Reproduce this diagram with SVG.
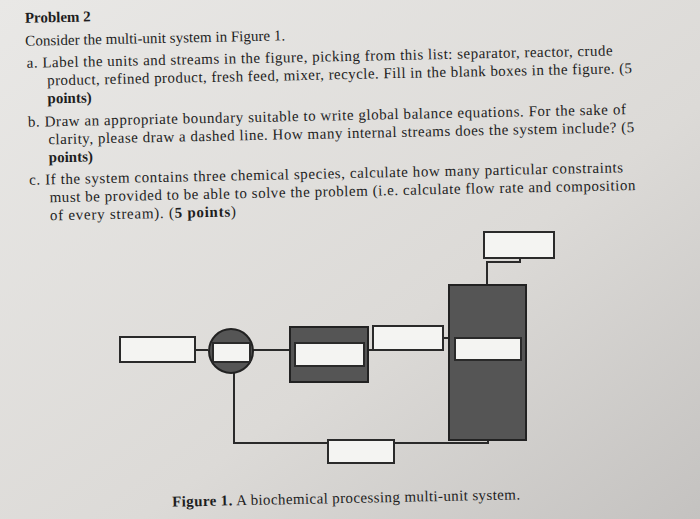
<svg xmlns="http://www.w3.org/2000/svg" width="700" height="519" viewBox="0 0 700 519">
<defs>
<linearGradient id="bg" x1="0" y1="0" x2="1" y2="1">
<stop offset="0" stop-color="#e9e8e6"/><stop offset="0.6" stop-color="#dcdad7"/><stop offset="1" stop-color="#c4c2c0"/>
</linearGradient>
<style>
.t{font-family:"Liberation Serif",serif;font-size:15px;fill:#1e1e1e}
.b{font-weight:bold}
.w{fill:#f4f4f2;stroke:#2a2a2a;stroke-width:2}
.d{fill:#555;stroke:#222;stroke-width:2}
.l{fill:none;stroke:#2a2a2a;stroke-width:2}
</style>
</defs>
<rect width="700" height="519" fill="url(#bg)"/>
<g transform="rotate(-1.2 350 120)">
<text class="t b" x="27" y="16">Problem 2</text>
<text class="t" x="27" y="39" textLength="260">Consider the multi-unit system in Figure 1.</text>
<text class="t" x="28" y="61" textLength="586">a.  Label the units and streams in the figure, picking from this list: separator, reactor, crude</text>
<text class="t" x="48" y="79" textLength="585">product, refined product, fresh feed, mixer, recycle. Fill in the blank boxes in the figure. (5</text>
<text class="t b" x="48" y="97">points)</text>
<text class="t" x="28" y="120" textLength="598">b.  Draw an appropriate boundary suitable to write global balance equations. For the sake of</text>
<text class="t" x="48" y="138" textLength="586">clarity, please draw a dashed line. How many internal streams does the system include? (5</text>
<text class="t b" x="48" y="156">points)</text>
<text class="t" x="28" y="178" textLength="594">c.  If the system contains three chemical species, calculate how many particular constraints</text>
<text class="t" x="48" y="196" textLength="586">must be provided to be able to solve the problem (i.e. calculate flow rate and composition</text>
<text class="t" x="48" y="214" textLength="186">of every stream). (<tspan class="b">5 points</tspan>)</text>
</g>
<g id="connectors">
<path class="l" d="M195 350 H208 M252 350 H290 M368 350 H373 M443 338 H449 M520 258 V262 H487 V285"/>
<path class="l" d="M234 373 V443 H449 M328 443 H449"/>
<path class="l" d="M449 443 H488 V440"/>
</g>
<g id="box-top"><rect class="w" x="484" y="232" width="70" height="26"/></g>
<g id="column"><rect class="d" x="449" y="285" width="77" height="155"/><rect class="w" x="455" y="338" width="66" height="22"/></g>
<g id="box-left"><rect class="w" x="120" y="337" width="75" height="25"/></g>
<g id="mixer"><circle class="d" cx="231" cy="351" r="22"/><rect class="w" x="213" y="343" width="37" height="19"/></g>
<g id="reactor"><rect class="d" x="290" y="327" width="78" height="55"/><rect class="w" x="295" y="343" width="69" height="23"/></g>
<g id="box-mid"><rect class="w" x="373" y="326" width="70" height="24"/></g>
<g id="box-bottom"><rect class="w" x="328" y="440" width="66" height="23"/></g>
<text class="t" x="172" y="503" textLength="348" transform="rotate(-1.2 345 495)"><tspan class="b">Figure 1.</tspan> A biochemical processing multi-unit system.</text>
</svg>
